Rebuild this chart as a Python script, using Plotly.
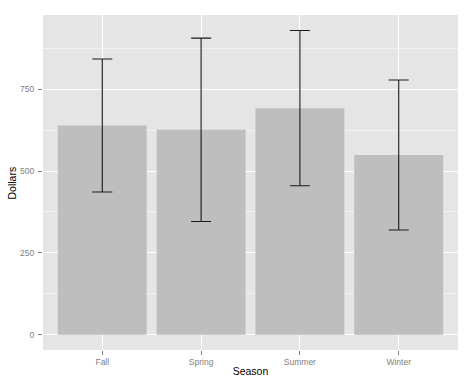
import plotly.graph_objects as go

seasons = ["Fall", "Spring", "Summer", "Winter"]
dollars = [639, 626, 692, 549]
err = [203, 280, 237, 229]
y_ticks = [0, 250, 500, 750]

fig = go.Figure()
fig.add_trace(go.Bar(
    x=seasons, y=dollars, width=0.9,
    marker=dict(color="#BEBEBE", line=dict(width=0)),
    error_y=dict(type="data", array=err, visible=True, color="#1a1a1a",
                 thickness=1.1, width=10),
    showlegend=False, hoverinfo="skip",
))

fig.update_layout(
    width=474, height=386,
    margin=dict(l=43, r=16, t=15, b=36, autoexpand=False),
    paper_bgcolor="white", plot_bgcolor="#E5E5E5",
    font=dict(family="Liberation Sans, Arial, sans-serif"),
    bargap=0.1,
)
fig.update_xaxes(
    automargin=False,
    range=[-0.6, 3.6], showgrid=True, gridcolor="white", gridwidth=1.2,
    ticks="outside", ticklen=4, tickcolor="#7F7F7F", tickwidth=1,
    tickfont=dict(size=8.5, color="#808080"),
    title=dict(text="Season", font=dict(size=10.5, color="black"), standoff=1),
    zeroline=False, showline=False,
)
fig.update_yaxes(
    automargin=False,
    range=[-46.5, 976.5], tickvals=y_ticks, ticktext=[str(v) for v in y_ticks],
    showgrid=True, gridcolor="white", gridwidth=1.2,
    minor=dict(tickvals=[125, 375, 625, 875], showgrid=True, gridcolor="#F2F2F2", gridwidth=1),
    ticks="outside", ticklen=4, tickcolor="#7F7F7F", tickwidth=1,
    ticklabelstandoff=2,
    tickfont=dict(size=8.5, color="#808080"),
    zeroline=False, showline=False,
)
fig.add_annotation(
    text="Dollars", textangle=-90, xref="paper", yref="paper",
    x=-0.0747, y=0.5, xanchor="center", yanchor="middle", showarrow=False,
    font=dict(size=10.5, color="black"),
)

fig.write_html("out.html",
               config={"displayModeBar": False},
               post_script="document.body.style.margin='0';document.body.style.overflow='hidden';")
